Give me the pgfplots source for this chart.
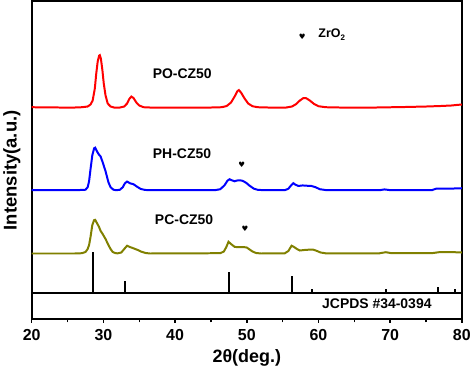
\documentclass[border=0pt]{standalone}
\usepackage{fontspec}
\setmainfont{Liberation Sans}
\newfontfamily\symfont{DejaVu Sans}
\usepackage{pgfplots}
\pgfplotsset{compat=1.18}
\begin{document}
\begin{tikzpicture}
\begin{axis}[
  scale only axis,
  width=431.6pt, height=319pt,
  xmin=20, xmax=80, ymin=-26, ymax=293,
  xtick={20,30,...,80},
  minor x tick num=1,
  xtick pos=bottom,
  ytick=\empty,
  tick align=outside,
  major tick length=4pt, minor tick length=3.5pt,
  axis line style={line width=1.8pt},
  every tick/.style={black, line width=1.5pt},
  /pgf/number format/assume math mode=true,
  xticklabel style={font=\fontsize{16}{18}\selectfont\bfseries, anchor=base, yshift=-18pt},
  xlabel={2θ(deg.)},
  xlabel style={font=\fontsize{18}{20}\selectfont\bfseries, at={(axis description cs:0.5,0)}, anchor=base, yshift=-44pt},
  ylabel={Intensity(a.u.)},
  ylabel style={font=\fontsize{18.5}{20}\selectfont\bfseries, at={(axis description cs:-0.035,0.467)}, anchor=base, rotate=0},
  clip=true,
]
% separator
\addplot[black, line width=1.8pt] coordinates {(20,0) (80,0)};
% JCPDS bars
\addplot[ycomb, black, line width=2pt] coordinates {
(28.55,41) (33.08,12) (47.48,21) (56.33,17) (59.09,4) (69.4,4) (76.7,6) (79.07,4)};
% PO-CZ50 red
\addplot[red, line width=2pt] coordinates {
(20,186.3) (24,186) (26,186) (27,186.3) (27.8,187) (28.2,189) (28.5,193) (28.8,205) (29.0,220) (29.2,232) (29.4,238) (29.5,238.5) (29.65,235) (29.85,224) (30.05,210) (30.3,198) (30.6,190) (31.0,187) (31.5,186) (32.3,186) (32.9,187) (33.3,190) (33.6,194.5) (33.9,197) (34.2,195.5) (34.6,191) (35.0,188) (35.6,186.3) (36.5,186) (40,186) (45,186) (46.5,186.3) (47.2,187.5) (47.8,191) (48.3,197) (48.7,202.5) (48.9,203.5) (49.2,201) (49.7,195) (50.2,190) (50.8,187.3) (51.5,186.3) (53,186) (55.5,186) (56.3,187) (56.9,189.5) (57.4,193) (57.9,195.5) (58.3,195.3) (58.8,193) (59.4,189.5) (60,187.3) (61,186.3) (63,186) (68,186) (72,186.5) (75,187) (77,187.5) (78.5,188) (79.5,188.7) (80,189)};
% PH-CZ50 blue
\addplot[blue, line width=2pt] coordinates {
(20,103) (26,103) (27,103.3) (27.5,103.5) (27.8,106) (28.0,112) (28.2,124) (28.45,138) (28.7,145) (28.85,145.7) (29.1,142) (29.35,139) (29.6,137) (29.9,131) (30.3,122) (30.7,111) (31.0,106) (31.4,103.5) (31.8,103) (32.3,103.5) (32.7,106) (33.0,110) (33.3,111.7) (33.7,110) (34.2,109) (34.7,106.5) (35.2,104.3) (35.8,103.3) (36.5,103) (45.5,103) (46.3,104) (46.9,108) (47.3,112.5) (47.6,114) (47.9,113) (48.3,112) (48.6,112.7) (49.0,113) (49.4,112.5) (49.9,110.5) (50.4,107.5) (51.0,104.5) (51.6,103.3) (53,103) (55.3,103) (55.8,104.5) (56.2,108) (56.5,110) (56.8,108.5) (57.2,107.3) (57.8,107.8) (58.4,107.5) (59.0,107.3) (59.6,106) (60.2,104) (61,103.2) (65,103) (68.5,103) (69.2,103.8) (69.9,103.2) (72,103) (75.8,103) (76.4,104.5) (78,104.5) (80,105)};
% PC-CZ50 olive
\addplot[color={rgb,255:red,128;green,128;blue,0}, line width=2pt] coordinates {
(20,39.5) (26,39.5) (27,39.8) (27.5,41) (27.8,44) (28.0,48) (28.2,56) (28.45,68) (28.7,73) (28.85,73.3) (29.1,70) (29.4,66) (29.6,62.3) (29.9,59) (30.3,54) (30.7,48) (31.0,44) (31.3,41) (31.7,39.8) (32.0,39.7) (32.5,40.5) (32.9,44) (33.3,47.3) (33.7,46) (34.2,44.7) (34.8,43) (35.3,41.3) (35.9,40) (36.5,39.5) (46.3,39.8) (46.8,41.5) (47.15,46) (47.45,51.3) (47.8,49) (48.3,46.2) (48.8,45.8) (49.5,46) (50.0,45.5) (50.4,43.5) (50.8,41.5) (51.3,40) (52,39.5) (55.3,39.7) (55.8,42) (56.25,47.3) (56.6,46) (57.0,44) (57.4,42.5) (58,43) (58.6,43.3) (59.2,43.5) (59.7,42.3) (60.3,40.5) (61,39.7) (68.5,39.7) (69.4,40.8) (70.2,39.8) (75.8,39.8) (76.5,40.5) (77,41) (78,41) (79,40.8) (80,40.5)};
% labels
\node[font=\fontsize{14}{15}\selectfont\bfseries] at (axis cs:41.0,220) {PO-CZ50};
\node[font=\fontsize{14}{15}\selectfont\bfseries] at (axis cs:40.96,139.3) {PH-CZ50};
\node[font=\fontsize{14}{15}\selectfont\bfseries] at (axis cs:41.25,73) {PC-CZ50};
\node[font=\fontsize{14}{15}\selectfont\bfseries] at (axis cs:68.15,-11) {JCPDS \#34-0394};
\node[font=\symfont\fontsize{7.5}{8}\selectfont] at (axis cs:57.74,257.3) {♥};
\node[font=\symfont\fontsize{7.5}{8}\selectfont] at (axis cs:49.29,128.3) {♥};
\node[font=\symfont\fontsize{7.5}{8}\selectfont] at (axis cs:49.76,64) {♥};
\node[font=\fontsize{12.5}{14}\selectfont\bfseries, anchor=west] at (axis cs:59.5,259) {ZrO\raisebox{-0.35ex}{\fontsize{8}{9}\selectfont 2}};
\end{axis}
\end{tikzpicture}
\end{document}
